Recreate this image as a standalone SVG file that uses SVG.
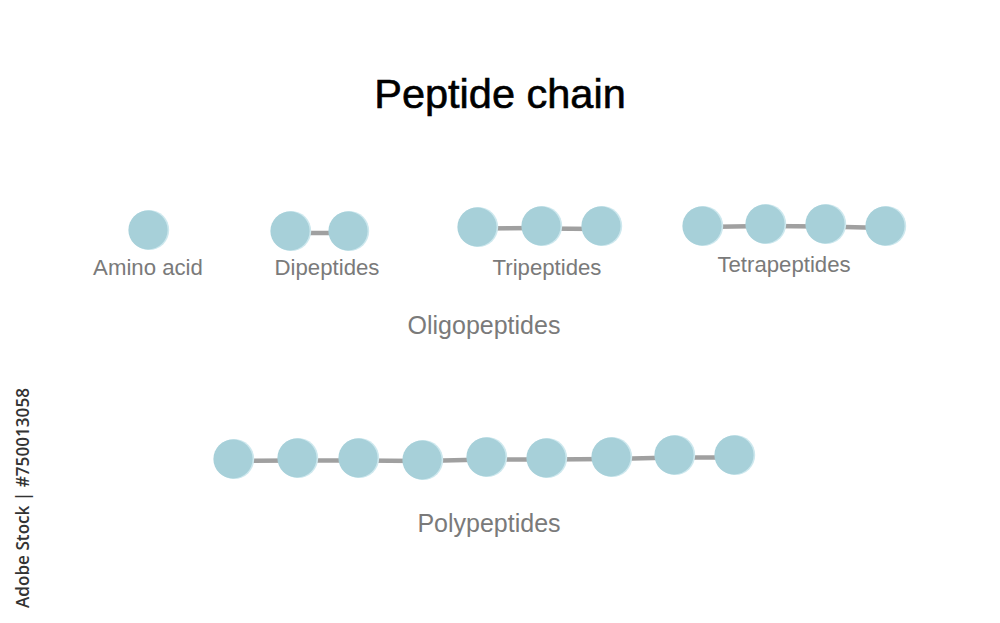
<svg xmlns="http://www.w3.org/2000/svg" width="1000" height="623" viewBox="0 0 1000 623">
<style>
.lbl{font-family:"Liberation Sans",Arial,sans-serif;fill:#7a7a7a;text-anchor:middle}
.s{font-size:22.2px}
.b{font-size:25px}
.bond{stroke:#a0a0a0;stroke-width:4.5;fill:none}
.aa{fill:#a7d0d9}
.rim{fill:#cde8ee}
</style>
<defs>
<g id="atom">
<circle class="rim" cx="1.2" cy="0" r="20"/>
<circle class="aa" cx="0" cy="0" r="19.6"/>
</g>
</defs>
<rect width="1000" height="623" fill="#ffffff"/>
<text x="500" y="108" style="font-family:'Liberation Sans',Arial,sans-serif;font-size:41.5px;fill:#000;stroke:#000;stroke-width:0.6" text-anchor="middle">Peptide chain</text>
<text transform="translate(29,608) rotate(-90)" style="font-family:'Open Sans','DejaVu Sans',sans-serif;font-size:17.5px;font-weight:600;fill:#333" textLength="220" lengthAdjust="spacingAndGlyphs">Adobe Stock | #750013058</text>
<g id="connectors">
<line class="bond" x1="290" y1="233" x2="348" y2="233"/>
<line class="bond" x1="477" y1="228.5" x2="541" y2="228"/>
<line class="bond" x1="541" y1="228.5" x2="601" y2="229"/>
<line class="bond" x1="702" y1="227" x2="765" y2="226"/>
<line class="bond" x1="765" y1="226" x2="825" y2="226.5"/>
<line class="bond" x1="825" y1="226.5" x2="885" y2="228"/>
<line class="bond" x1="233" y1="461" x2="297" y2="460.5"/>
<line class="bond" x1="297" y1="460.5" x2="358" y2="460.5"/>
<line class="bond" x1="358" y1="460.5" x2="422" y2="461"/>
<line class="bond" x1="422" y1="461" x2="486" y2="459.5"/>
<line class="bond" x1="486" y1="459.5" x2="546" y2="459.5"/>
<line class="bond" x1="546" y1="459.5" x2="611" y2="459"/>
<line class="bond" x1="611" y1="459" x2="674" y2="457.5"/>
<line class="bond" x1="674" y1="457.5" x2="734" y2="457.5"/>
</g>
<g id="amino-acid">
<use href="#atom" x="148" y="230"/>
<text class="lbl s" x="148" y="275">Amino acid</text>
</g>
<g id="dipeptides">
<use href="#atom" x="290" y="231"/>
<use href="#atom" x="348" y="231"/>
<text class="lbl s" x="327" y="275">Dipeptides</text>
</g>
<g id="tripeptides">
<use href="#atom" x="477" y="227"/>
<use href="#atom" x="541" y="226"/>
<use href="#atom" x="601" y="226"/>
<text class="lbl s" x="547" y="275">Tripeptides</text>
</g>
<g id="tetrapeptides">
<use href="#atom" x="702" y="226"/>
<use href="#atom" x="765" y="224"/>
<use href="#atom" x="825" y="224"/>
<use href="#atom" x="885" y="226"/>
<text class="lbl s" x="784" y="272">Tetrapeptides</text>
</g>
<g id="oligopeptides">
<text class="lbl b" x="484" y="334">Oligopeptides</text>
</g>
<g id="polypeptides">
<use href="#atom" x="233" y="459"/>
<use href="#atom" x="297" y="458"/>
<use href="#atom" x="358" y="458"/>
<use href="#atom" x="422" y="460"/>
<use href="#atom" x="486" y="457"/>
<use href="#atom" x="546" y="458"/>
<use href="#atom" x="611" y="457"/>
<use href="#atom" x="674" y="455"/>
<use href="#atom" x="734" y="455"/>
<text class="lbl b" x="489" y="532">Polypeptides</text>
</g>
</svg>
